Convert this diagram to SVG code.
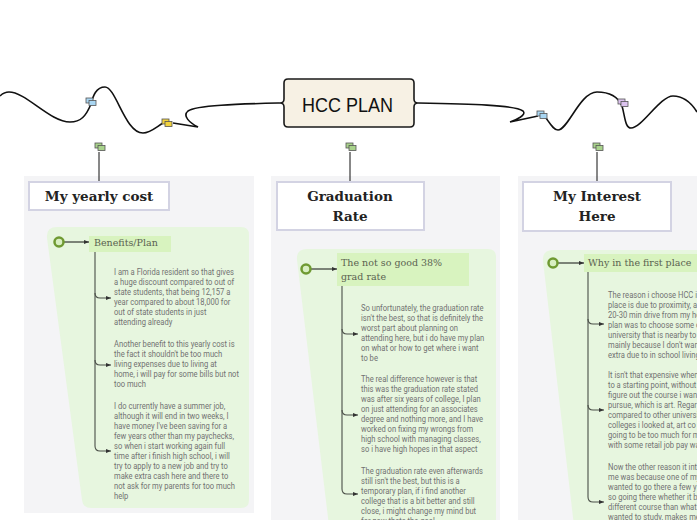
<svg xmlns="http://www.w3.org/2000/svg" width="697" height="520" viewBox="0 0 697 520">
<style>
.panel{fill:#f4f4f6}
.blob{fill:#e7f6df}
.title{fill:#fff;stroke:#d3d3e3;stroke-width:2}
.ttext{font-family:"DejaVu Serif",serif;font-weight:bold;font-size:13.5px;fill:#222;text-anchor:middle}
.lbox{fill:#d8f3bf}
.ltext{font-family:"DejaVu Serif",serif;font-size:9.5px;fill:#5a6250}
.body{font-family:Roboto,"Liberation Sans",sans-serif;font-size:9.5px;fill:#727272}
.dot{fill:#d8efc2;stroke:#6f9a32;stroke-width:2.5}
.wire{fill:none;stroke:#111;stroke-width:1.6}
.tree{fill:none;stroke:#4a4f48;stroke-width:1.1}
.stem{fill:none;stroke:#111;stroke-width:1}
.mk rect{stroke:#555;stroke-width:0.8}
</style>
<defs>
<marker id="ah" markerWidth="5" markerHeight="4" refX="5" refY="2" orient="auto" markerUnits="userSpaceOnUse">
<path d="M0,0 L5,2 L0,4 z" fill="#333"/>
</marker>
<g id="icon" class="mk"><rect x="0" y="0" width="7" height="5"/><rect x="3" y="2.5" width="7" height="5"/></g>
</defs>

<!-- panels -->
<rect class="panel" x="24" y="176" width="230" height="337"/>
<rect class="panel" x="271" y="176" width="229" height="350"/>
<rect class="panel" x="518" y="176" width="185" height="350"/>

<path class="blob" d="M57,227 H241 Q249,227 249,235 V500 Q249,508 241,508 H91 Q83,508 82,500 L47,238 Q46,227 57,227 Z"/>
<path class="blob" d="M307,249 H488 Q496,249 496,257 V526 H329 L297,260 Q296,249 307,249 Z"/>
<path class="blob" d="M553,250 H705 V526 H574 L543,261 Q542,250 553,250 Z"/>

<g id="connectors">
<path class="wire" d="M280,103 C 240,104 196,105 188,111 C 182,116 190,123 198,127 L 173,123"/>
<path class="wire" d="M163,123 C 155,128 150,133 143,133 C 125,133 116,87 105,87 C 96,87 93,96 91,104 C 86,116 81,122 70,122 C 50,122 26,92 9,92 C 5,92 2,94 0,96"/>
<path class="wire" d="M418,103 C 470,104 515,105 523,111 C 527,115 516,120 510,122 L 538,116"/>
<path class="wire" d="M546,118 C 551,125 554,130 558,130 C 568,130 580,92 597,92 C 613,92 619,99 622,106 C 625,116 625,128 631,128 C 642,128 660,96 673,96 C 685,96 692,104 697,112"/>
<path class="stem" d="M99,152 V182"/>
<path class="stem" d="M350,152 V182"/>
<path class="stem" d="M597,152 V182"/>
<path class="stem" d="M64,242 H89" marker-end="url(#ah)"/>
<path class="stem" d="M311,269 H337" marker-end="url(#ah)"/>
<path class="stem" d="M558,263 H584" marker-end="url(#ah)"/>
<path class="tree" d="M95,252 V446 Q95,451 100,451 H111" marker-end="url(#ah)"/>
<path class="tree" d="M95,293 Q95,298 100,298 H111" marker-end="url(#ah)"/>
<path class="tree" d="M95,360 Q95,365 100,365 H111" marker-end="url(#ah)"/>
<path class="tree" d="M342,286 V489 Q342,494 347,494 H358" marker-end="url(#ah)"/>
<path class="tree" d="M342,329 Q342,334 347,334 H358" marker-end="url(#ah)"/>
<path class="tree" d="M342,410 Q342,415 347,415 H358" marker-end="url(#ah)"/>
<path class="tree" d="M588,272 V497 Q588,502 593,502 H604" marker-end="url(#ah)"/>
<path class="tree" d="M588,319 Q588,324 593,324 H604" marker-end="url(#ah)"/>
<path class="tree" d="M588,405 Q588,410 593,410 H604" marker-end="url(#ah)"/>
</g>

<g id="markers">
<use href="#icon" x="86" y="98" fill="#a9d6f2"/>
<use href="#icon" x="162" y="119" fill="#f1d23e"/>
<use href="#icon" x="537" y="111" fill="#a9d6f2"/>
<use href="#icon" x="618" y="99" fill="#dcc3ee"/>
<use href="#icon" x="95" y="143" fill="#a9d38c" />
<use href="#icon" x="346" y="143" fill="#a9d38c"/>
<use href="#icon" x="593" y="143" fill="#a9d38c"/>
</g>

<g id="node-hcc">
<path d="M288,79 H410 Q414,79 414,83 V99 Q414,103 418,103 Q414,103 414,107 V123 Q414,127 410,127 H288 Q284,127 284,123 V107 Q284,103 280,103 Q284,103 284,99 V83 Q284,79 288,79 Z" fill="#f7f1e4" stroke="#1a1a1a" stroke-width="1.6"/>
<text x="302" y="112" font-family="'Liberation Sans',sans-serif" font-size="21" fill="#111" textLength="91" lengthAdjust="spacingAndGlyphs">HCC PLAN</text>
</g>

<g id="node-cost">
<rect class="title" x="29" y="182" width="140" height="28"/>
<text class="ttext" x="99" y="201">My yearly cost</text>
</g>
<g id="node-grad">
<rect class="title" x="277" y="182" width="147" height="48"/>
<text class="ttext" x="350" y="201">Graduation</text>
<text class="ttext" x="350" y="221">Rate</text>
</g>
<g id="node-interest">
<rect class="title" x="523" y="182" width="148" height="49"/>
<text class="ttext" x="597" y="201">My Interest</text>
<text class="ttext" x="597" y="221">Here</text>
</g>

<g id="node-benefits">
<circle class="dot" cx="59" cy="242" r="4.5"/>
<rect class="lbox" x="89" y="236" width="82" height="16"/>
<text class="ltext" x="94" y="246">Benefits/Plan</text>
</g>
<g id="node-notgood">
<circle class="dot" cx="306" cy="269" r="4.5"/>
<rect class="lbox" x="337" y="253" width="132" height="33"/>
<text class="ltext" x="341" y="266">The not so good 38%</text>
<text class="ltext" x="341" y="280">grad rate</text>
</g>
<g id="node-why">
<circle class="dot" cx="553" cy="263" r="4.5"/>
<rect class="lbox" x="584" y="254" width="120" height="18"/>
<text class="ltext" x="588" y="266">Why in the first place</text>
</g>

<g id="text-cost-1"><text class="body" transform="translate(114,0) scale(0.8,1)">
<tspan x="0" y="275">I am a Florida resident so that gives</tspan>
<tspan x="0" y="285">a huge discount compared to out of</tspan>
<tspan x="0" y="295">state students, that being 12,157 a</tspan>
<tspan x="0" y="305">year compared to about 18,000 for</tspan>
<tspan x="0" y="315">out of state students in just</tspan>
<tspan x="0" y="325">attending already</tspan>
</text></g>
<g id="text-cost-2"><text class="body" transform="translate(114,0) scale(0.8,1)">
<tspan x="0" y="347">Another benefit to this yearly cost is</tspan>
<tspan x="0" y="357">the fact it shouldn't be too much</tspan>
<tspan x="0" y="367">living expenses due to living at</tspan>
<tspan x="0" y="377">home, i will pay for some bills but not</tspan>
<tspan x="0" y="387">too much</tspan>
</text></g>
<g id="text-cost-3"><text class="body" transform="translate(114,0) scale(0.8,1)">
<tspan x="0" y="409">I do currently have a summer job,</tspan>
<tspan x="0" y="419">although it will end in two weeks, I</tspan>
<tspan x="0" y="429">have money I've been saving for a</tspan>
<tspan x="0" y="439">few years other than my paychecks,</tspan>
<tspan x="0" y="449">so when i start working again full</tspan>
<tspan x="0" y="459">time after i finish high school, i will</tspan>
<tspan x="0" y="469">try to apply to a new job and try to</tspan>
<tspan x="0" y="479">make extra cash here and there to</tspan>
<tspan x="0" y="489">not ask for my parents for too much</tspan>
<tspan x="0" y="499">help</tspan>
</text></g>

<g id="text-grad-1"><text class="body" transform="translate(361,0) scale(0.8,1)">
<tspan x="0" y="311">So unfortunately, the graduation rate</tspan>
<tspan x="0" y="321">isn't the best, so that is definitely the</tspan>
<tspan x="0" y="331">worst part about planning on</tspan>
<tspan x="0" y="341">attending here, but i do have my plan</tspan>
<tspan x="0" y="351">on what or how to get where i want</tspan>
<tspan x="0" y="361">to be</tspan>
</text></g>
<g id="text-grad-2"><text class="body" transform="translate(361,0) scale(0.8,1)">
<tspan x="0" y="382">The real difference however is that</tspan>
<tspan x="0" y="392">this was the graduation rate stated</tspan>
<tspan x="0" y="402">was after six years of college, I plan</tspan>
<tspan x="0" y="412">on just attending for an associates</tspan>
<tspan x="0" y="422">degree and nothing more, and I have</tspan>
<tspan x="0" y="432">worked on fixing my wrongs from</tspan>
<tspan x="0" y="442">high school with managing classes,</tspan>
<tspan x="0" y="452">so i have high hopes in that aspect</tspan>
</text></g>
<g id="text-grad-3"><text class="body" transform="translate(361,0) scale(0.8,1)">
<tspan x="0" y="474">The graduation rate even afterwards</tspan>
<tspan x="0" y="484">still isn't the best, but this is a</tspan>
<tspan x="0" y="494">temporary plan, if i find another</tspan>
<tspan x="0" y="504">college that is a bit better and still</tspan>
<tspan x="0" y="514">close, i might change my mind but</tspan>
<tspan x="0" y="524">for now thats the goal</tspan>
</text></g>

<g id="text-interest-1"><text class="body" transform="translate(608,0) scale(0.8,1)">
<tspan x="0" y="298">The reason i choose HCC i</tspan>
<tspan x="0" y="308">place is due to proximity, a</tspan>
<tspan x="0" y="318">20-30 min drive from my ho</tspan>
<tspan x="0" y="328">plan was to choose some o</tspan>
<tspan x="0" y="338">university that is nearby to</tspan>
<tspan x="0" y="348">mainly because I don't wan</tspan>
<tspan x="0" y="358">extra due to in school living</tspan>
</text></g>
<g id="text-interest-2"><text class="body" transform="translate(608,0) scale(0.8,1)">
<tspan x="0" y="378">It isn't that expensive when</tspan>
<tspan x="0" y="388">to a starting point, without</tspan>
<tspan x="0" y="398">figure out the course i wan</tspan>
<tspan x="0" y="408">pursue, which is art. Regar</tspan>
<tspan x="0" y="418">compared to other universi</tspan>
<tspan x="0" y="428">colleges i looked at, art co</tspan>
<tspan x="0" y="438">going to be too much for m</tspan>
<tspan x="0" y="448">with some retail job pay wa</tspan>
</text></g>
<g id="text-interest-3"><text class="body" transform="translate(608,0) scale(0.8,1)">
<tspan x="0" y="470">Now the other reason it int</tspan>
<tspan x="0" y="480">me was because one of my</tspan>
<tspan x="0" y="490">wanted to go there a few y</tspan>
<tspan x="0" y="500">so going there whether it b</tspan>
<tspan x="0" y="510">different course than what</tspan>
<tspan x="0" y="520">wanted to study, makes me</tspan>
</text></g>
</svg>
